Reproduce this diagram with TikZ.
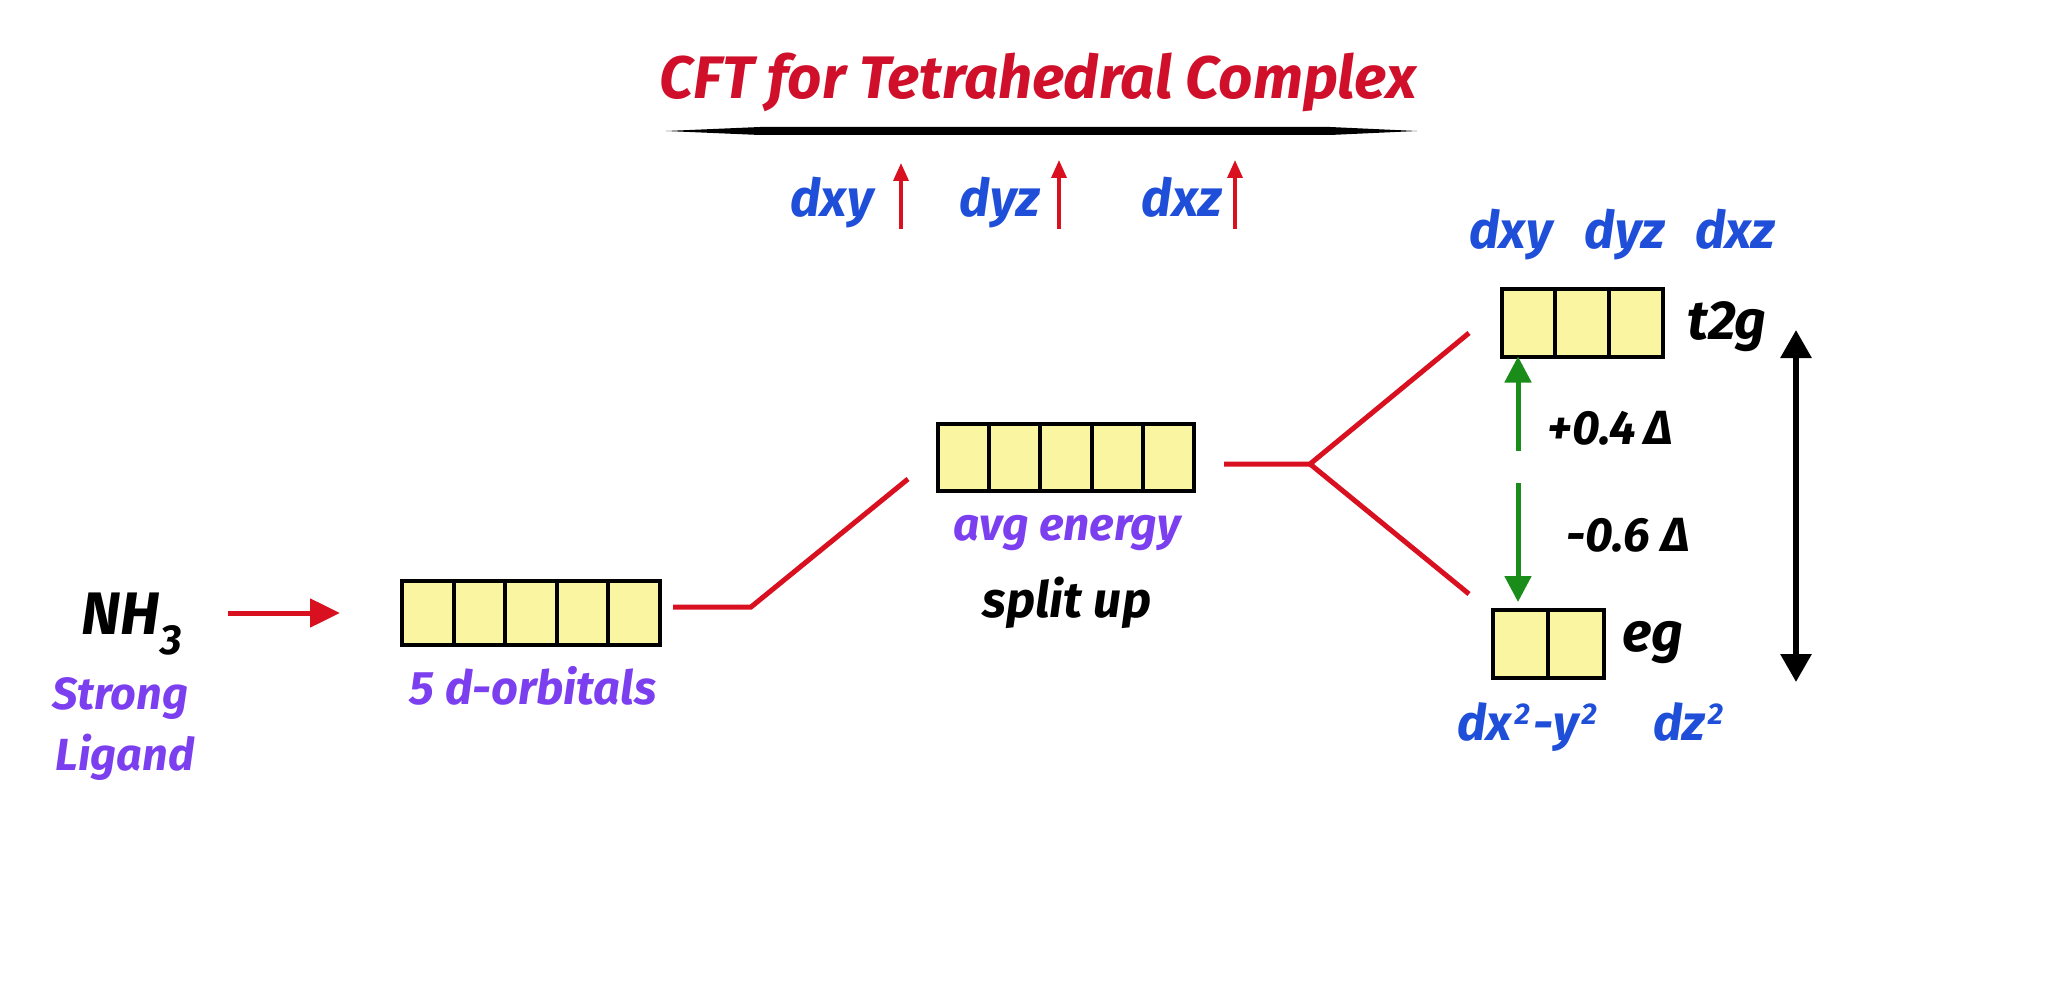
\documentclass[tikz,border=0pt]{standalone}
\usepackage{fontspec}
\setmainfont{Fira Sans}
\usetikzlibrary{calc,arrows.meta}
\definecolor{tred}{HTML}{D0102A}
\definecolor{lred}{HTML}{D81020}
\definecolor{tblue}{HTML}{1F4FD8}
\definecolor{tpurple}{HTML}{7B3FF0}
\definecolor{boxyellow}{HTML}{FAF5A0}
\definecolor{tgreen}{HTML}{1A8C1A}
\newcommand{\supn}[1]{\hspace{3pt}\raisebox{0.6ex}{\fontsize{30}{30}\selectfont #1}\hspace{4pt}}
\begin{document}
\begin{tikzpicture}[x=1pt,y=-1pt,
  txt/.style={font=\fontsize{#1}{#1}\selectfont\bfseries\itshape, inner sep=0pt},
  orb/.style={draw=black, line width=4pt, fill=boxyellow, inner sep=0pt, outer sep=0pt},
  redline/.style={draw=lred, line width=5pt},
  uparrow/.style={draw=lred, line width=3.5pt, -{Triangle[length=18pt,width=15pt]}},
  grarrow/.style={draw=tgreen, line width=5pt, -{Triangle[length=26pt,width=26pt]}},
  bkarrow/.style={draw=black, line width=6pt, {Triangle[length=28pt,width=30pt]}-{Triangle[length=28pt,width=30pt]}}
]
\useasboundingbox[fill=white] (0,0) rectangle (2048,992);

% title
\node[txt=60, text=tred] (title) at (1038,82) {CFT for Tetrahedral Complex};
\fill[black] (666,131) -- (760,127) -- (1330,127) -- (1417,131) -- (1330,135) -- (760,135) -- cycle;

% top labels with arrows
\node[txt=52, text=tblue, anchor=base] (txy) at (832,217) {dxy};
\node[txt=52, text=tblue, anchor=base] (tyz) at (1000,217) {dyz};
\node[txt=52, text=tblue, anchor=base] (txz) at (1182,217) {dxz};
\coordinate (a1s) at (901,229); \coordinate (a1e) at (901,163);
\coordinate (a2s) at (1059,229); \coordinate (a2e) at (1059,160);
\coordinate (a3s) at (1235,229); \coordinate (a3e) at (1235,160);
\draw[uparrow] (a1s) -- (a1e);
\draw[uparrow] (a2s) -- (a2e);
\draw[uparrow] (a3s) -- (a3e);

% ligand
\node[txt=60] (nh3) at (132,624) {NH\textsubscript{3}};
\node[txt=45, text=tpurple] (strong) at (120,699) {Strong};
\node[txt=45, text=tpurple] (ligand) at (125,757) {Ligand};

% 5 d-orbitals
\node[orb, minimum width=258pt, minimum height=64pt] (L) at (531,613) {};
\foreach \i in {1,...,4}
  \draw[line width=4pt] ($(L.north west)!\i/5!(L.north east)$) -- ($(L.south west)!\i/5!(L.south east)$);
\node[txt=47, text=tpurple] (Llab) at (533,686) {5 d-orbitals};
\draw[draw=lred, line width=5pt, -{Triangle[length=30pt,width=28pt]}, shorten <=46pt, shorten >=62pt] (nh3.east |- L.west) -- (L.west);

% avg energy
\node[orb, minimum width=256pt, minimum height=67pt] (M) at (1066,457) {};
\foreach \i in {1,...,4}
  \draw[line width=4pt] ($(M.north west)!\i/5!(M.north east)$) -- ($(M.south west)!\i/5!(M.south east)$);
\node[txt=46, text=tpurple] (Mlab) at (1067,533) {avg energy};
\node[txt=50] (split) at (1067,603) {split up};

\coordinate (c1) at (673,607);
\coordinate (c2) at (751,607);
\coordinate (c3) at (908,479);
\draw[redline, line join=miter] (c1) -- (c2) -- (c3);

% t2g
\node[orb, minimum width=161pt, minimum height=67pt] (T) at (1582,323) {};
\foreach \i in {1,2}
  \draw[line width=4pt] ($(T.north west)!\i/3!(T.north east)$) -- ($(T.south west)!\i/3!(T.south east)$);
\node[txt=55] (t2g) at (1727,327) {t2g};
\node[txt=52, text=tblue, anchor=base] (rxy) at (1511,249) {dxy};
\node[txt=52, text=tblue, anchor=base] (ryz) at (1625,249) {dyz};
\node[txt=52, text=tblue, anchor=base] (rxz) at (1735,249) {dxz};

% eg
\node[orb, minimum width=111pt, minimum height=68pt] (E) at (1548,644) {};
\draw[line width=4pt] (E.north) -- (E.south);
\node[txt=55] (eg) at (1653,643) {eg};
\node[txt=50, text=tblue, anchor=base] (ex) at (1527,740) {dx\supn{2}-y\supn{2}};
\node[txt=50, text=tblue, anchor=base] (ez) at (1688,740) {dz\supn{2}};

% split lines
\coordinate (s0) at (1224,464);
\coordinate (s1) at (1310,464);
\coordinate (s2) at (1469,333);
\coordinate (s3) at (1469,594);
\draw[redline, line join=miter] (s0) -- (s1) -- (s2);
\draw[redline, line join=miter] (s1) -- (s3);

% green arrows
\coordinate (g1) at (1518,451);
\coordinate (g2) at (1518,483);
\draw[grarrow] (g1) -- (T.south -| g1);
\draw[grarrow, shorten >=8pt] (g2) -- (E.north -| g2);
\node[txt=48] (p04) at (1610,428) {+0.4\,Δ};
\node[txt=48] (m06) at (1628,535) {-0.6\hspace{12pt}Δ};

% black double arrow
\coordinate (b1) at (1796,330);
\coordinate (b2) at (1796,682);
\draw[bkarrow] (b1) -- (b2);
\end{tikzpicture}
\end{document}
